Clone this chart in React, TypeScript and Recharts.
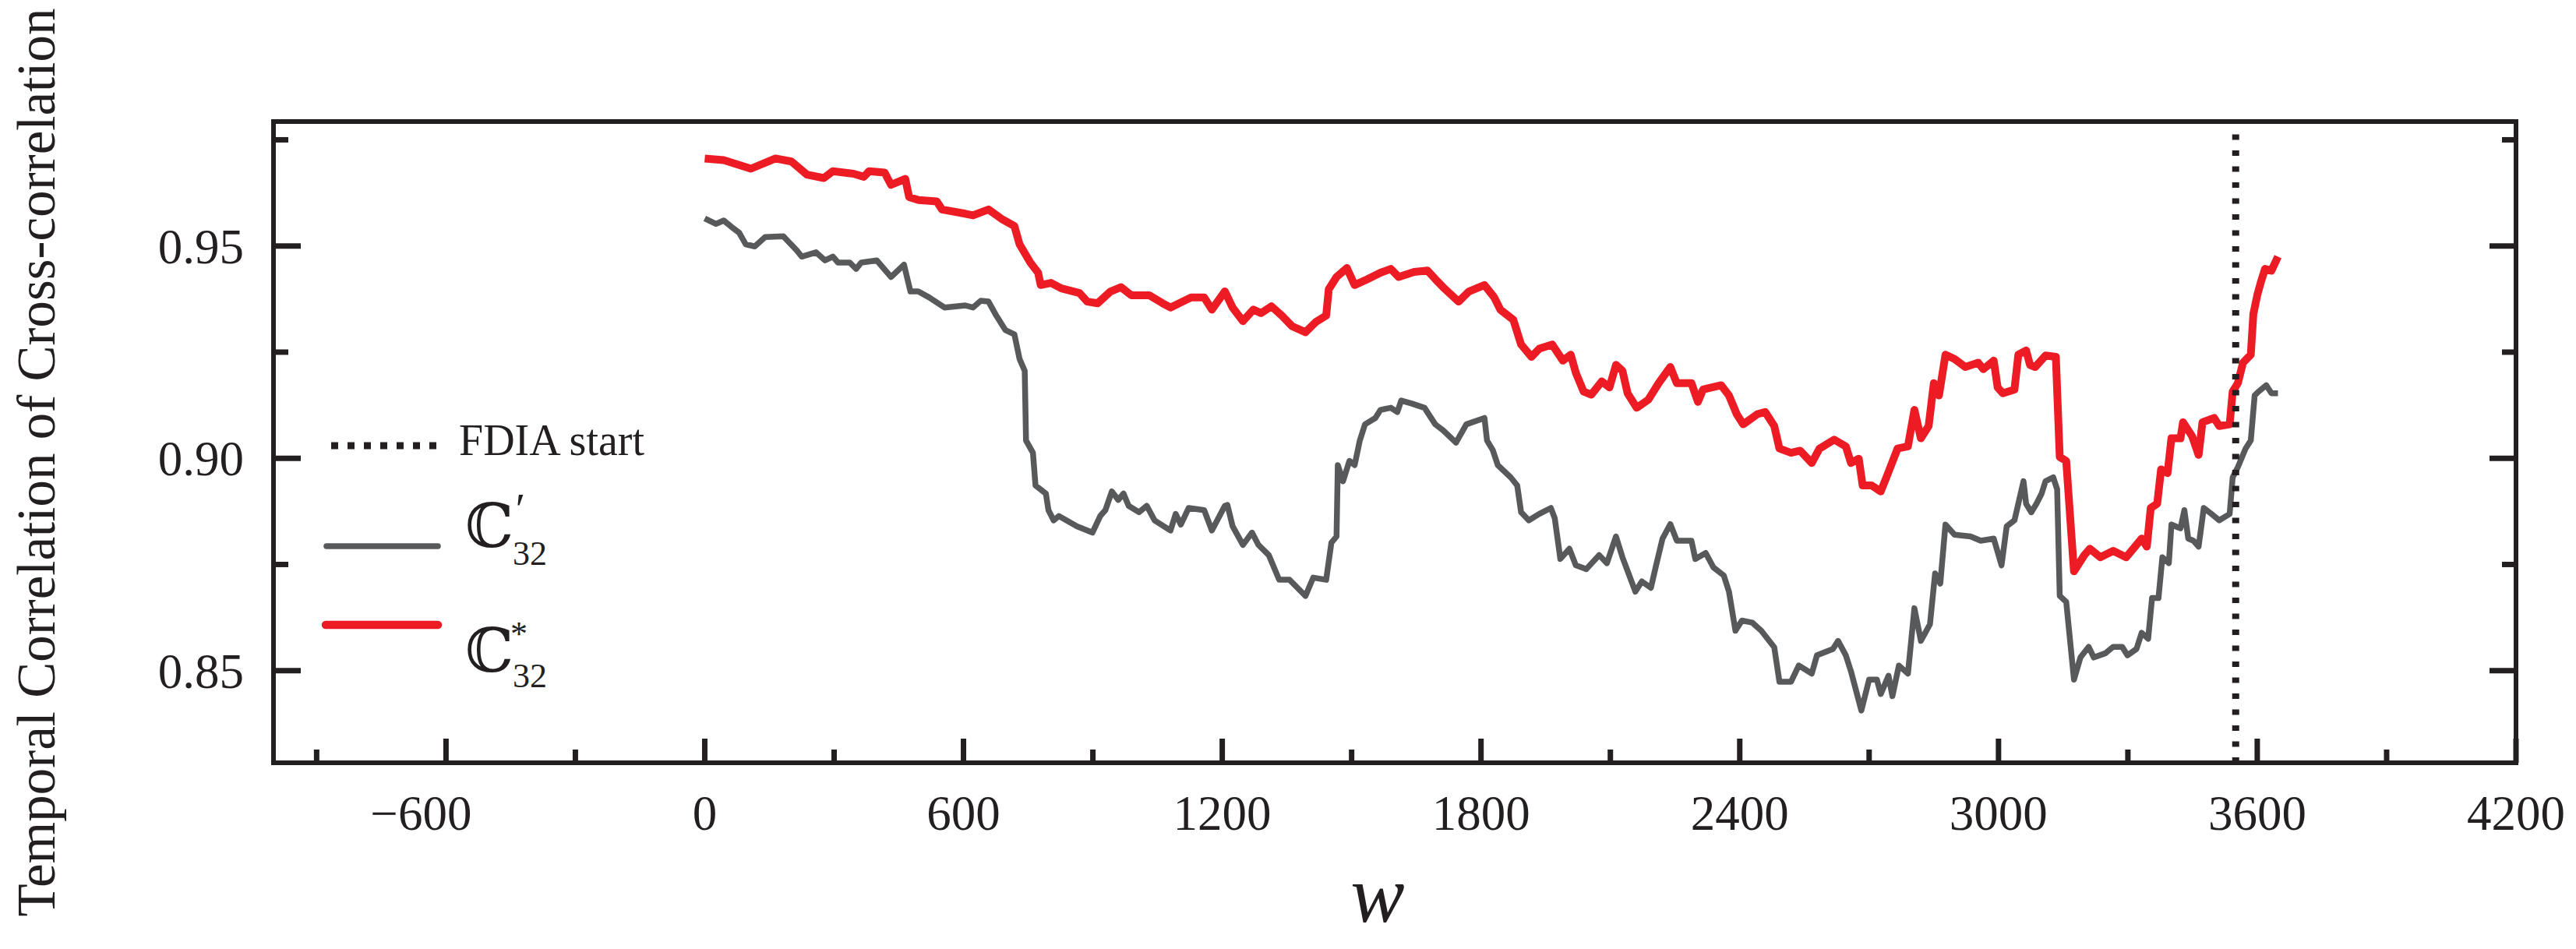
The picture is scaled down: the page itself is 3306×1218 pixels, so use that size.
import React from 'react';
import { LineChart, Line, XAxis, YAxis, ReferenceLine, Legend } from 'recharts';

// C'_32 (gray)
const grayW = [
  0, 26, 44, 62, 80, 95, 116, 140, 182, 213, 225, 258, 279, 297, 309, 336, 351, 363, 399, 432,
  462, 477, 495, 520, 556, 604, 622, 640, 658, 676, 697, 718, 730, 742, 745, 761, 767, 791, 797, 809,
  821, 863, 899, 917, 929, 944, 959, 971, 983, 1007, 1025, 1043, 1080, 1092, 1104, 1122, 1158, 1176, 1206, 1212,
  1224, 1248, 1269, 1284, 1308, 1332, 1356, 1393, 1411, 1441, 1453, 1465, 1468, 1480, 1495, 1507, 1519, 1531, 1555, 1567,
  1591, 1606, 1615, 1639, 1669, 1694, 1712, 1742, 1766, 1808, 1814, 1827, 1839, 1869, 1884, 1893, 1911, 1935, 1962, 1971,
  1984, 2005, 2020, 2044, 2074, 2092, 2113, 2128, 2158, 2173, 2194, 2206, 2221, 2239, 2254, 2288, 2297, 2321, 2339, 2363,
  2375, 2390, 2405, 2429, 2450, 2480, 2492, 2519, 2537, 2567, 2579, 2616, 2628, 2646, 2658, 2682, 2700, 2718, 2727, 2745,
  2754, 2769, 2790, 2805, 2820, 2841, 2853, 2865, 2877, 2898, 2935, 2959, 2989, 3007, 3019, 3037, 3058, 3064, 3076, 3088,
  3100, 3109, 3127, 3136, 3142, 3157, 3175, 3190, 3209, 3221, 3248, 3266, 3287, 3299, 3320, 3332, 3347, 3356, 3371, 3380,
  3395, 3401, 3422, 3431, 3440, 3452, 3464, 3476, 3494, 3512, 3536, 3543, 3555, 3573, 3585, 3594, 3603, 3621, 3633, 3648,
];
const grayV = [
  0.9565, 0.9552, 0.956, 0.9545, 0.9531, 0.9504, 0.9499, 0.9521, 0.9523, 0.949, 0.9475, 0.9485, 0.9466, 0.9475, 0.9461, 0.9461, 0.9446, 0.9461, 0.9466, 0.9427,
  0.9456, 0.9393, 0.9393, 0.9379, 0.9355, 0.936, 0.9355, 0.9371, 0.9369, 0.9336, 0.9302, 0.9292, 0.9234, 0.9206, 0.9042, 0.9013, 0.8936, 0.8917, 0.8878, 0.8854,
  0.8864, 0.884, 0.8825, 0.8864, 0.8878, 0.8922, 0.8902, 0.8917, 0.8888, 0.8873, 0.8888, 0.8854, 0.883, 0.8869, 0.8844, 0.8883, 0.8878, 0.883, 0.8888, 0.889,
  0.884, 0.8796, 0.8825, 0.8796, 0.8772, 0.8714, 0.8714, 0.8676, 0.8719, 0.8714, 0.8801, 0.8816, 0.8984, 0.8946, 0.8994, 0.8984, 0.9042, 0.908, 0.9095, 0.9114,
  0.9119, 0.9109, 0.9136, 0.9129, 0.9119, 0.908, 0.9066, 0.9037, 0.908, 0.9095, 0.9042, 0.902, 0.8984, 0.8955, 0.8936, 0.8873, 0.8854, 0.8869, 0.8883, 0.8859,
  0.8763, 0.8787, 0.8748, 0.8739, 0.8772, 0.8753, 0.8816, 0.8767, 0.8686, 0.871, 0.8695, 0.8748, 0.8811, 0.8845, 0.8806, 0.8806, 0.8763, 0.8777, 0.8743, 0.8724,
  0.8686, 0.8594, 0.8618, 0.8613, 0.8594, 0.8555, 0.8474, 0.8474, 0.8512, 0.8493, 0.8536, 0.8551, 0.857, 0.8536, 0.8498, 0.8406, 0.8479, 0.8479, 0.8445, 0.8488,
  0.844, 0.8512, 0.8493, 0.8647, 0.857, 0.8609, 0.8729, 0.8705, 0.8844, 0.882, 0.8816, 0.8806, 0.8811, 0.8748, 0.884, 0.8854, 0.8946, 0.8893, 0.8873, 0.8893,
  0.8917, 0.8946, 0.8955, 0.8927, 0.8676, 0.8662, 0.8479, 0.8531, 0.8556, 0.8531, 0.8541, 0.8556, 0.8556, 0.8536, 0.8551, 0.8589, 0.8575, 0.8671, 0.8671, 0.8767,
  0.8753, 0.8844, 0.8835, 0.8878, 0.8811, 0.8806, 0.8792, 0.8883, 0.8869, 0.8854, 0.8869, 0.8955, 0.8979, 0.9023, 0.9042, 0.9148, 0.9157, 0.9172, 0.9153, 0.9153,
];

// C*_32 (red)
const redW = [
  0, 44, 107, 164, 201, 237, 276, 297, 345, 369, 381, 417, 432, 465, 474, 496, 538, 550, 604, 622,
  658, 688, 718, 730, 755, 773, 779, 803, 827, 869, 887, 911, 941, 965, 989, 1031, 1062, 1080, 1128, 1158,
  1176, 1206, 1224, 1248, 1272, 1290, 1314, 1338, 1362, 1393, 1417, 1441, 1447, 1465, 1489, 1507, 1537, 1567, 1591, 1609,
  1645, 1676, 1694, 1712, 1748, 1772, 1808, 1830, 1845, 1875, 1893, 1917, 1935, 1965, 1990, 2008, 2020, 2038, 2056, 2080,
  2098, 2113, 2128, 2140, 2161, 2188, 2212, 2239, 2254, 2288, 2303, 2315, 2357, 2375, 2393, 2408, 2441, 2459, 2480, 2492,
  2519, 2540, 2567, 2585, 2619, 2646, 2658, 2676, 2685, 2706, 2727, 2742, 2766, 2790, 2805, 2820, 2838, 2850, 2862, 2877,
  2898, 2923, 2953, 2965, 2989, 2998, 3010, 3037, 3046, 3064, 3073, 3085, 3109, 3133, 3142, 3157, 3175, 3199, 3212, 3236,
  3266, 3296, 3332, 3344, 3353, 3368, 3377, 3392, 3401, 3422, 3428, 3449, 3464, 3473, 3500, 3512, 3536, 3543, 3555, 3567,
  3585, 3591, 3600, 3609, 3618, 3633, 3648,
];
const redV = [
  0.9706, 0.9702, 0.9682, 0.9706, 0.9699, 0.9668, 0.966, 0.9676, 0.967, 0.9663, 0.9676, 0.9673, 0.9644, 0.9658, 0.9615, 0.9608, 0.9605, 0.9586, 0.9576, 0.9572,
  0.9586, 0.9564, 0.9547, 0.9504, 0.9461, 0.9437, 0.9408, 0.9413, 0.94, 0.9389, 0.9369, 0.9365, 0.9393, 0.9403, 0.9384, 0.9384, 0.9365, 0.9355, 0.9379, 0.9379,
  0.935, 0.9393, 0.9355, 0.9323, 0.935, 0.9342, 0.9358, 0.9336, 0.9311, 0.9297, 0.9321, 0.9336, 0.9398, 0.9427, 0.9448, 0.9408, 0.9422, 0.9437, 0.9446, 0.9427,
  0.9439, 0.9442, 0.9422, 0.9403, 0.9369, 0.9393, 0.9408, 0.938, 0.935, 0.9326, 0.9268, 0.9239, 0.9258, 0.9268, 0.923, 0.9244, 0.9201, 0.9157, 0.915, 0.9181,
  0.9167, 0.922, 0.9206, 0.9153, 0.9119, 0.9138, 0.9177, 0.9215, 0.9177, 0.9177, 0.9133, 0.9162, 0.9172, 0.9148, 0.9104, 0.908, 0.9104, 0.9109, 0.9076, 0.9023,
  0.9013, 0.9018, 0.8989, 0.9023, 0.9044, 0.9028, 0.8989, 0.8999, 0.8936, 0.8936, 0.8922, 0.896, 0.9023, 0.9028, 0.9114, 0.9047, 0.9076, 0.9177, 0.9148, 0.9244,
  0.9234, 0.9215, 0.9225, 0.921, 0.923, 0.9167, 0.9153, 0.9162, 0.9244, 0.9254, 0.922, 0.9215, 0.9242, 0.9239, 0.9003, 0.8994, 0.8734, 0.8772, 0.8787, 0.8767,
  0.8782, 0.8767, 0.8811, 0.8792, 0.8883, 0.8893, 0.8974, 0.8965, 0.9047, 0.9047, 0.9085, 0.9052, 0.9008, 0.9085, 0.9095, 0.9076, 0.908, 0.9157, 0.9177, 0.9225,
  0.9244, 0.934, 0.9384, 0.9417, 0.9446, 0.9442, 0.9475,
];

const fdiaStart = 3550;

const xMajorTicks = [-600, 0, 600, 1200, 1800, 2400, 3000, 3600, 4200];
const xMinorTicks = [-900, -300, 300, 900, 1500, 2100, 2700, 3300, 3900];
const yMajorTicks = [0.85, 0.9, 0.95];
const yMinorTicks = [0.875, 0.925, 0.975];
const xDomain = [-1000, 4200];
const yDomain = [0.8283, 0.9793];

const xTitle = 'w';
const yTitle = 'Temporal Correlation of Cross-correlation';

const grayData = grayW.map((w, i) => ({ w, v: grayV[i] }));
const redData = redW.map((w, i) => ({ w, v: redV[i] }));
const xTicks = [...xMinorTicks, ...xMajorTicks].sort((a, b) => a - b);
const yTicks = [...yMajorTicks, ...yMinorTicks].sort((a, b) => a - b);

const INK = '#231F20';
const GRAY = '#58595B';
const RED = '#ED1C24';
const SERIF = '"Liberation Serif", "Times New Roman", serif';
const MATH = '"DejaVu Serif", serif';

const frame = { stroke: INK, strokeWidth: 6, strokeLinecap: 'square' as const };

// axes get a 1px box: recharts skips drawing an axis whose box is empty
const BottomTick = (props: any) => {
  const { x, y, payload } = props;
  const v = payload.value;
  const major = xMajorTicks.includes(v);
  return (
    <g>
      <line x1={x} x2={x} y1={y} y2={y - (major ? 31 : 17)} stroke={INK} strokeWidth={7} />
      {major && (
        <text x={v < 0 ? x - 32 : x} y={y + 86} textAnchor="middle" fontSize={63} fontFamily={SERIF} fill={INK}>
          {v < 0 ? `\u2212${Math.abs(v)}` : `${v}`}
        </text>
      )}
    </g>
  );
};

const TopTick = (props: any) => {
  const { x, y, payload } = props;
  const major = xMajorTicks.includes(payload.value);
  return <line x1={x} x2={x} y1={y} y2={y + (major ? 55 : 29)} stroke={INK} strokeWidth={7} />;
};

const LeftTick = (props: any) => {
  const { x, y, payload } = props;
  const major = yMajorTicks.includes(payload.value);
  return (
    <g>
      <line x1={x} x2={x + (major ? 35 : 19)} y1={y} y2={y} stroke={INK} strokeWidth={7} />
      {major && (
        <text x={x - 38} y={y + 22} textAnchor="end" fontSize={63} fontFamily={SERIF} fill={INK}>
          {payload.value.toFixed(2)}
        </text>
      )}
    </g>
  );
};

const RightTick = (props: any) => {
  const { x, y, payload } = props;
  const major = yMajorTicks.includes(payload.value);
  return <line x1={x} x2={x - (major ? 34 : 18)} y1={y} y2={y} stroke={INK} strokeWidth={7} />;
};

const XTitle = (props: any) => {
  const vb = props.viewBox;
  return (
    <text x={vb.x + vb.width / 2 - 22} y={vb.y + 204} textAnchor="middle" fontSize={104} fontStyle="italic" fontFamily={SERIF} fill={INK}>
      {xTitle}
    </text>
  );
};

const YTitle = (props: any) => {
  const vb = props.viewBox;
  const x = vb.x + vb.width - 281;
  const y = vb.y + vb.height / 2 + 26;
  return (
    <text x={x} y={y} transform={`rotate(-90, ${x}, ${y})`} textAnchor="middle" fontSize={69} fontFamily={SERIF} fill={INK}>
      {yTitle}
    </text>
  );
};

const LegendBox = () => (
  <svg width={460} height={380} style={{ overflow: 'visible' }}>
    <line x1={17} x2={152} y1={44} y2={44} stroke={INK} strokeWidth={9} strokeDasharray="9 12" />
    <text x={181} y={56} fontSize={56} fontFamily={SERIF} fill={INK}>FDIA start</text>

    <line x1={11} x2={154} y1={173} y2={173} stroke={GRAY} strokeWidth={7.5} strokeLinecap="round" />
    <text fill={INK}>
      <tspan x={189} y={174} fontSize={78} fontFamily={MATH}>{'\u2102'}</tspan>
      <tspan x={250} y={145} fontSize={58} fontFamily={SERIF} fontStyle="italic">{'\u2032'}</tspan>
      <tspan x={250} y={197} fontSize={44} fontFamily={SERIF}>32</tspan>
    </text>

    <line x1={10} x2={154} y1={274} y2={274} stroke={RED} strokeWidth={10.5} strokeLinecap="round" />
    <text fill={INK}>
      <tspan x={189} y={334} fontSize={78} fontFamily={MATH}>{'\u2102'}</tspan>
      <tspan x={247} y={300} fontSize={44} fontFamily={SERIF}>*</tspan>
      <tspan x={250} y={354} fontSize={44} fontFamily={SERIF}>32</tspan>
    </text>
  </svg>
);

export default function App() {
  return (
    <LineChart width={3290} height={1202} margin={{ top: 147, right: 68, bottom: 230, left: 342 }}>
      <XAxis
        type="number"
        dataKey="w"
        domain={xDomain}
        allowDataOverflow
        ticks={xTicks}
        interval={0}
        height={1}
        tickSize={0}
        tickMargin={0}
        tickLine={false}
        axisLine={frame}
        tick={<BottomTick />}
        label={{ content: <XTitle /> }}
      />
      <XAxis
        xAxisId="top"
        orientation="top"
        type="number"
        domain={xDomain}
        allowDataOverflow
        ticks={xTicks}
        interval={0}
        height={1}
        tickSize={0}
        tickMargin={0}
        tickLine={false}
        axisLine={frame}
        tick={<TopTick />}
      />
      <YAxis
        type="number"
        domain={yDomain}
        allowDataOverflow
        ticks={yTicks}
        interval={0}
        width={1}
        tickSize={0}
        tickMargin={0}
        tickLine={false}
        axisLine={frame}
        tick={<LeftTick />}
        label={{ content: <YTitle /> }}
      />
      <YAxis
        yAxisId="right"
        orientation="right"
        type="number"
        domain={yDomain}
        allowDataOverflow
        ticks={yTicks}
        interval={0}
        width={1}
        tickSize={0}
        tickMargin={0}
        tickLine={false}
        axisLine={frame}
        tick={<RightTick />}
      />
      <Line
        data={grayData}
        type="linear"
        dataKey="v"
        stroke={GRAY}
        strokeWidth={7.5}
        strokeLinejoin="round"
        dot={false}
        activeDot={false}
        isAnimationActive={false}
      />
      <Line
        data={redData}
        type="linear"
        dataKey="v"
        stroke={RED}
        strokeWidth={10}
        strokeLinejoin="round"
        dot={false}
        activeDot={false}
        isAnimationActive={false}
      />
      <ReferenceLine x={fdiaStart} stroke={INK} strokeWidth={9} strokeDasharray="7 13.5" />
      <Legend
        layout="horizontal"
        align="center"
        verticalAlign="middle"
        content={<LegendBox />}
        wrapperStyle={{ left: 400, top: 520, width: 460, height: 380 }}
      />
    </LineChart>
  );
}
